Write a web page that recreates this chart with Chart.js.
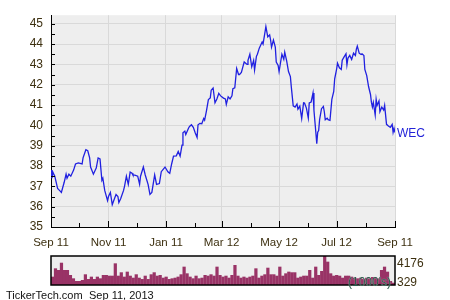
<!DOCTYPE html>
<html><head><meta charset="utf-8">
<script src="https://cdn.jsdelivr.net/npm/chart.js@4/dist/chart.umd.min.js"></script>
<style>
html,body{margin:0;padding:0;background:#fff;width:450px;height:300px;overflow:hidden;font-family:"Liberation Sans",Arial,sans-serif;}
#main{position:absolute;left:0;top:0;}
#vol{position:absolute;left:0;top:250px;}
.t{position:absolute;white-space:pre;line-height:12px;z-index:2;}
</style></head><body>
<canvas id="main" width="450" height="252"></canvas>
<canvas id="vol" width="450" height="50"></canvas>
<div class="t" style="left:397px;top:257px;font-size:12px;color:#3d3010;">4176</div>
<div class="t" style="left:397px;top:276px;font-size:12px;color:#3d3010;">329</div>
<div class="t" style="left:348px;top:276px;font-size:12px;color:#2c5a4c;text-shadow:0 0 1px #cfe0d8;">(1000's)</div>
<div class="t" style="left:6px;top:289px;font-size:11px;color:#111;">TickerTech.com</div>
<div class="t" style="left:89px;top:289px;font-size:11px;color:#111;">Sep 11, 2013</div>
<script>
// days since 2012-09-11
const days = [0,1,2,4,7,9,11,14,16,17,19,21,24,26,29,33,34,37,39,41,42,45,47,48,50,52,54,55,57,60,61,63,65,67,69,71,72,74,77,78,80,82,84,86,87,89,92,94,95,98,100,103,105,107,110,112,115,117,121,124,126,128,130,133,135,137,139,140,142,143,146,147,149,151,153,155,156,158,160,162,163,165,167,169,170,172,174,176,178,180,183,185,186,188,190,192,193,195,197,199,200,202,205,208,209,211,213,215,216,218,219,221,224,225,228,230,232,233,234,236,238,239,241,242,245,247,248,250,252,254,255,257,259,261,262,264,266,268,269,271,273,274,276,278,279,281,282,283,284,285,287,289,290,291,293,294,296,298,300,301,303,304,306,308,309,311,313,314,315,317,319,321,323,324,325,327,329,330,332,333,335,337,339,340,341,342,344,345,346,348,349,351,353,354,356,358,360,362,363,364,365];
const prices = [37.8,37.4,37.7,37.5,36.9,36.8,36.7,37.2,37.6,37.4,37.6,37.5,37.8,38.1,38.15,38.1,38.4,38.8,38.75,38.4,37.95,37.6,37.8,37.9,38.4,38.35,37.3,37.4,36.8,36.3,36.5,36.7,36.1,36.35,36.6,36.5,36.2,36.4,36.8,37.0,37.5,37.1,37.7,37.65,37.55,37.55,37.5,37.1,37.5,37.95,37.56,37.1,36.6,36.7,37.56,37.1,37.14,37.72,37.95,37.72,37.64,38.1,38.49,38.5,38.72,38.49,39.03,39.64,39.72,39.55,39.87,39.95,40.03,39.9,39.64,39.41,40.03,40.1,40.08,40.34,40.26,40.73,41.27,41.35,41.73,41.84,41.11,41.3,41.57,41.45,41.34,41.3,41.03,41.4,41.3,41.45,41.8,41.85,42.8,42.5,42.5,42.6,43.12,43.0,43.2,43.5,42.88,43.2,42.73,43.4,43.5,43.8,44.1,44.0,44.86,44.35,44.45,44.2,43.85,44.2,43.85,43.12,42.95,42.65,43.5,43.25,43.6,43.18,42.65,42.4,41.88,40.96,40.9,41.05,40.8,40.95,40.34,41.11,41.1,40.85,40.36,41.1,41.15,41.59,40.74,39.66,39.1,39.66,39.74,40.28,40.82,40.93,40.67,40.28,40.35,40.28,40.25,41.28,41.67,42.29,42.75,43.06,42.83,42.75,43.21,43.37,43.52,42.98,43.3,43.44,43.24,43.55,43.44,43.75,43.9,43.55,43.49,43.52,43.44,42.75,42.45,41.9,41.52,41.13,40.9,41.13,40.51,41.28,40.98,41.2,40.67,40.9,40.75,40.98,40.05,39.97,39.9,40.05,39.66,39.85,39.65];
const tickDays = [0,61,122,181,242,303,365];
const tickLabels = ["Sep 11","Nov 11","Jan 11","Mar 12","May 12","Jul 12","Sep 11"];
const minorDays = [30,91,153,212,273,334];
const priceTicks = [35,36,37,38,39,40,41,42,43,44,45];
const volumes = [1200,2400,2160,3210,2160,2160,1440,960,580,580,720,1540,860,1200,860,1200,960,1440,1440,1340,1340,3120,1340,1830,1200,1920,1340,1050,1540,1050,860,1340,860,1540,1830,1340,1440,1050,1200,860,960,1050,1200,1540,2640,1680,1200,960,1340,960,1050,1440,1340,1540,1340,2640,1440,1200,1340,1050,1440,2880,1340,1050,1200,1050,1200,1340,2400,1050,1340,1540,2490,1540,1540,1340,2640,1340,1680,1920,1830,1830,1050,1200,1340,1340,2160,1050,2640,1440,2020,4176,3360,1680,1340,1440,1340,1050,1340,1340,1200,1050,960,1050,860,1050,960,1150,1050,960,2160,2640,1920,580,329];
const seriesName = "WEC";

const FONT = '"Liberation Sans", Arial, sans-serif';
const LABEL = '#3d3010';

const framePlugin = {
  id: 'frame',
  beforeDraw(chart) {
    const a = chart.chartArea, c = chart.ctx;
    c.save(); c.fillStyle = '#eeeeee';
    c.fillRect(a.left, a.top, a.right - a.left, a.bottom - a.top);
    c.restore();
  },
  afterDraw(chart) {
    const a = chart.chartArea, c = chart.ctx;
    const xs = chart.scales.x, ys = chart.scales.y;
    c.save(); c.strokeStyle = '#000'; c.lineWidth = 1;
    c.beginPath();
    for (let v = 35.5; v <= 45.01; v += 0.5) {
      const y = Math.round(ys.getPixelForValue(v)) + 0.5;
      c.moveTo(a.left, y); c.lineTo(a.left + 4, y);
    }
    minorDays.forEach(d => { const x = Math.round(xs.getPixelForValue(d)) + 0.5; c.moveTo(x, a.bottom); c.lineTo(x, a.bottom - 4); });
    tickDays.forEach(d => { const x = Math.round(xs.getPixelForValue(d)) + 0.5; c.moveTo(x, a.bottom); c.lineTo(x, a.bottom - 6); });
    c.stroke();
    const meta = chart.getDatasetMeta(0);
    const p = meta.data[meta.data.length - 1];
    c.fillStyle = '#2323d8'; c.font = '12px ' + FONT;
    c.textBaseline = 'middle'; c.textAlign = 'left';
    c.fillText(seriesName, p.x + 2, p.y + 1);
    c.restore();
  }
};

new Chart(document.getElementById('main'), {
  type: 'line',
  data: { datasets: [{ label: seriesName, data: days.map((d, i) => ({ x: d, y: prices[i] })),
    borderColor: '#2020e0', borderWidth: 1.3, pointRadius: 0, tension: 0, fill: false }] },
  options: {
    responsive: false, animation: false, events: [],
    layout: { padding: { left: 0, right: 55, top: 2, bottom: 0 } },
    plugins: { legend: { display: false }, tooltip: { enabled: false } },
    scales: {
      x: { type: 'linear', min: 0, max: 365,
        afterBuildTicks(s) { s.ticks = tickDays.map(v => ({ value: v })); },
        afterFit(s) { s.height = 25; },
        ticks: { autoSkip: false, maxRotation: 0, padding: 9, color: LABEL, font: { family: FONT, size: 11.5 },
          callback: (v, i) => tickLabels[i] },
        grid: { color: '#d9d9d9', drawTicks: false, lineWidth: 1 },
        border: { color: '#000', width: 1 } },
      y: { type: 'linear', min: 35, max: 45.42,
        afterBuildTicks(s) { s.ticks = priceTicks.map(v => ({ value: v })); },
        afterFit(s) { s.width = 51; },
        ticks: { padding: 8, color: LABEL, font: { family: FONT, size: 12 }, callback: v => String(v) },
        grid: { color: '#d9d9d9', drawTicks: false, lineWidth: 1 },
        border: { color: '#000', width: 1 } }
    }
  },
  plugins: [framePlugin]
});

const volFrame = {
  id: 'volFrame',
  beforeDraw(chart) {
    const a = chart.chartArea, c = chart.ctx;
    c.save(); c.fillStyle = '#eeeeee';
    c.fillRect(a.left, a.top, a.right - a.left, a.bottom - a.top); c.restore();
  },
  afterDraw(chart) {
    const a = chart.chartArea, c = chart.ctx;
    c.save(); c.strokeStyle = '#000'; c.lineWidth = 1.5;
    c.strokeRect(a.left, a.top, a.right - a.left, a.bottom - a.top); c.restore();
  }
};

new Chart(document.getElementById('vol'), {
  type: 'bar',
  data: { labels: volumes.map((_, i) => i),
    datasets: [{ data: volumes, backgroundColor: '#993366', borderWidth: 0, barPercentage: 1.08, categoryPercentage: 1 }] },
  options: {
    responsive: false, animation: false, events: [],
    layout: { padding: { left: 51, right: 55, top: 6, bottom: 15 } },
    plugins: { legend: { display: false }, tooltip: { enabled: false } },
    scales: { x: { display: false }, y: { display: false, min: 0, max: 4176 } }
  },
  plugins: [volFrame]
});
</script>
</body></html>
